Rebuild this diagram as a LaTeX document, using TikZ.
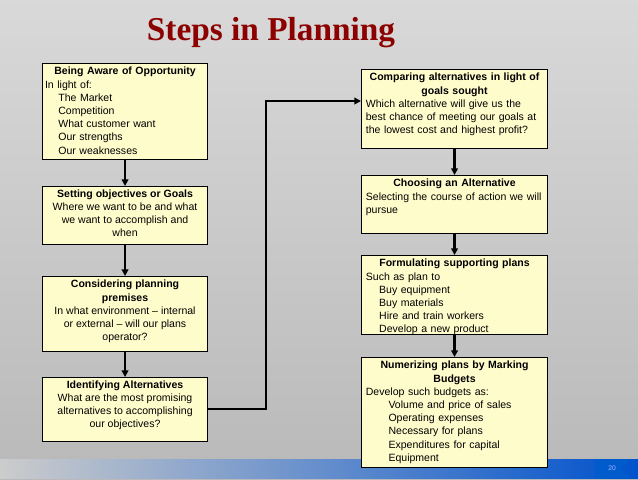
\documentclass[tikz,border=0pt]{standalone}
\usepackage{fontspec}
\setmainfont{Liberation Sans}
\newfontfamily\titlefont{Liberation Serif}
\usetikzlibrary{arrows.meta}
\begin{document}
\begin{tikzpicture}[x=0.75pt,y=-0.75pt,
  box/.style={draw=black,line width=0.8pt,fill=yellow!20!white,anchor=north west,inner sep=0pt},
  txt/.style={anchor=north,font=\fontsize{7.9}{9.9}\selectfont,inner sep=0pt,align=left},
  conn/.style={line width=1.8pt,-{Triangle[length=5pt,width=5pt]}}]
\shade[top color=gray!30!white,bottom color=gray!55!white] (0,0) rectangle (638,479);
\shade[left color=gray!40!white,right color=blue!60!cyan!80!black] (0,459) rectangle (638,478);
\fill[blue!55!cyan!80!black] (595,459) -- (630,459) -- (621,468.5) -- (630,478) -- (595,478) -- cycle;
\node[font=\tiny,text=blue!30!white] (pg) at (612,468.5) {20};
\node[font=\titlefont\bfseries\fontsize{25}{29}\selectfont,text=red!55!black] (title) at (271,33) {Steps in Planning};
% left column
\node[box,minimum width=165pt*0.75,minimum height=96pt*0.75] (b1) at (42,63) {};
\node[box,minimum width=165pt*0.75,minimum height=58pt*0.75] (b2) at (42,186) {};
\node[box,minimum width=165pt*0.75,minimum height=75pt*0.75] (b3) at (42,276) {};
\node[box,minimum width=165pt*0.75,minimum height=64pt*0.75] (b4) at (42,377) {};
% right column
\node[box,minimum width=186pt*0.75,minimum height=79pt*0.75] (b5) at (361,69) {};
\node[box,minimum width=186pt*0.75,minimum height=58pt*0.75] (b6) at (361,175) {};
\node[box,minimum width=186pt*0.75,minimum height=79pt*0.75] (b7) at (361,255) {};
\node[box,minimum width=186pt*0.75,minimum height=110pt*0.75] (b8) at (361,357) {};
% texts
\node[txt,text width=120pt] (t1) at ([yshift=-3pt]b1.north) {\centering\textbf{Being Aware of Opportunity}\par
\raggedright In light of:\\
\hspace*{10pt}The Market\\\hspace*{10pt}Competition\\\hspace*{10pt}What customer want\\\hspace*{10pt}Our strengths\\\hspace*{10pt}Our weaknesses};
\node[txt,align=center] (t2) at ([yshift=-2.5pt]b2.north) {\textbf{Setting objectives or Goals}\\Where we want to be and what\\we want to accomplish and\\when};
\node[txt,align=center] (t3) at ([yshift=-3pt]b3.north) {\textbf{Considering planning}\\\textbf{premises}\\In what environment -- internal\\or external -- will our plans\\operator?};
\node[txt,align=center] (t4) at ([yshift=-2.5pt]b4.north) {\textbf{Identifying Alternatives}\\What are the most promising\\alternatives to accomplishing\\our objectives?};
\node[txt,text width=133pt] (t5) at ([yshift=-3pt]b5.north) {\centering\textbf{Comparing alternatives in light of}\\\textbf{goals sought}\par\raggedright
Which alternative will give us the\\best chance of meeting our goals at\\the lowest cost and highest profit?};
\node[txt,text width=133pt] (t6) at ([yshift=-3pt]b6.north) {\centering\textbf{Choosing an Alternative}\par\raggedright
Selecting the course of action we will\\pursue};
\node[txt,text width=133pt] (t7) at ([yshift=-3pt]b7.north) {\centering\textbf{Formulating supporting plans}\par\raggedright
Such as plan to\\\hspace*{10pt}Buy equipment\\\hspace*{10pt}Buy materials\\\hspace*{10pt}Hire and train workers\\\hspace*{10pt}Develop a new product};
\node[txt,text width=133pt] (t8) at ([yshift=-3pt]b8.north) {\centering\textbf{Numerizing plans by Marking}\\\textbf{Budgets}\par\raggedright
Develop such budgets as:\\\hspace*{17pt}Volume and price of sales\\\hspace*{17pt}Operating expenses\\\hspace*{17pt}Necessary for plans\\\hspace*{17pt}Expenditures for capital\\\hspace*{17pt}Equipment};
% connectors
\draw[conn] (b1) -- (b2);
\draw[conn] (b2) -- (b3);
\draw[conn] (b3) -- (b4);
\draw[conn] (b5) -- (b6);
\draw[conn] (b6) -- (b7);
\draw[conn] (b7) -- (b8);
\coordinate (c1) at (266,409);
\coordinate (c2) at (266,101);
\draw[conn] (b4.east |- c1) -- (c1) -- (c2) -- (c2 -| b5.west);
\end{tikzpicture}
\end{document}
